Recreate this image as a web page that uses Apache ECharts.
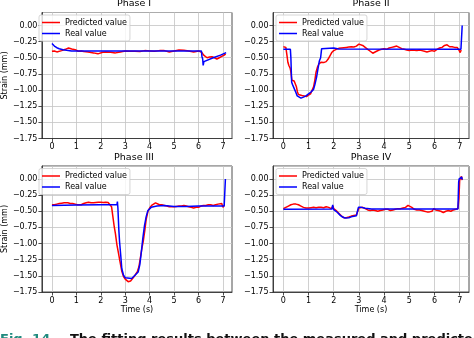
<!DOCTYPE html>
<html>
<head>
<meta charset="utf-8">
<script src="https://cdn.jsdelivr.net/npm/echarts@6/dist/echarts.min.js"></script>
<style>html,body{margin:0;padding:0;background:#fff}#c{width:474px;height:338px}</style>
</head>
<body>
<div id="c"></div>
<script>
const panelTitles = ['Phase I', 'Phase II', 'Phase III', 'Phase IV'];
const seriesNames = ['Predicted value', 'Real value'];
const xTicks = [0, 1, 2, 3, 4, 5, 6, 7];
const yTicksMin = -1.75, yTicksStep = 0.25;

const p1Pred = [[0,-0.40],[0.1,-0.395],[0.2,-0.41],[0.28,-0.42],[0.4,-0.39],[0.55,-0.37],[0.68,-0.35],[0.81,-0.365],[0.95,-0.375],[1.08,-0.40],[1.2,-0.395],[1.3,-0.405],[1.48,-0.41],[1.6,-0.42],[1.7,-0.425],[1.88,-0.44],[1.95,-0.43],[2.08,-0.415],[2.2,-0.41],[2.28,-0.405],[2.4,-0.415],[2.48,-0.41],[2.6,-0.425],[2.68,-0.43],[2.8,-0.41],[2.88,-0.405],[3.0,-0.395],[3.08,-0.39],[3.2,-0.40],[3.28,-0.395],[3.4,-0.40],[3.48,-0.395],[3.6,-0.405],[3.68,-0.40],[3.8,-0.39],[3.88,-0.385],[4.0,-0.395],[4.08,-0.405],[4.2,-0.40],[4.28,-0.395],[4.4,-0.39],[4.48,-0.38],[4.6,-0.39],[4.68,-0.395],[4.8,-0.41],[4.88,-0.42],[5.0,-0.395],[5.08,-0.385],[5.2,-0.38],[5.28,-0.375],[5.4,-0.385],[5.48,-0.39],[5.6,-0.395],[5.68,-0.40],[5.8,-0.41],[5.88,-0.405],[6.0,-0.395],[6.08,-0.40],[6.14,-0.42],[6.21,-0.46],[6.28,-0.48],[6.35,-0.50],[6.45,-0.49],[6.55,-0.485],[6.65,-0.50],[6.75,-0.52],[6.85,-0.50],[6.95,-0.48],[7.05,-0.46],[7.11,-0.44]];
const p1Real = [[0,-0.28],[0.1,-0.32],[0.2,-0.345],[0.3,-0.36],[0.45,-0.375],[0.6,-0.385],[0.8,-0.395],[6.12,-0.395],[6.14,-0.48],[6.17,-0.52],[6.19,-0.62],[6.22,-0.56],[6.3,-0.54],[6.6,-0.50],[6.9,-0.46],[7.13,-0.42]];

const p2Pred = [[0,-0.33],[0.05,-0.30],[0.1,-0.34],[0.15,-0.48],[0.18,-0.57],[0.22,-0.62],[0.27,-0.66],[0.3,-0.72],[0.34,-0.85],[0.38,-0.87],[0.43,-0.86],[0.48,-0.88],[0.52,-0.95],[0.56,-1.03],[0.6,-1.07],[0.65,-1.07],[0.7,-1.08],[0.78,-1.09],[0.85,-1.11],[0.92,-1.10],[1.0,-1.08],[1.08,-1.06],[1.15,-1.03],[1.2,-0.95],[1.25,-0.85],[1.3,-0.72],[1.36,-0.64],[1.42,-0.59],[1.5,-0.57],[1.6,-0.575],[1.7,-0.56],[1.78,-0.52],[1.85,-0.47],[1.92,-0.42],[2.0,-0.39],[2.1,-0.37],[2.2,-0.355],[2.3,-0.35],[2.4,-0.345],[2.5,-0.34],[2.6,-0.335],[2.7,-0.33],[2.8,-0.335],[2.9,-0.32],[3.0,-0.29],[3.05,-0.28],[3.15,-0.31],[3.25,-0.34],[3.35,-0.37],[3.45,-0.40],[3.55,-0.43],[3.62,-0.42],[3.7,-0.40],[3.8,-0.38],[3.9,-0.37],[4.0,-0.36],[4.1,-0.37],[4.2,-0.35],[4.3,-0.34],[4.4,-0.33],[4.5,-0.32],[4.6,-0.34],[4.7,-0.36],[4.8,-0.37],[4.9,-0.38],[5.0,-0.39],[5.1,-0.38],[5.2,-0.385],[5.3,-0.39],[5.4,-0.38],[5.5,-0.39],[5.6,-0.40],[5.7,-0.41],[5.8,-0.40],[5.9,-0.39],[6.0,-0.40],[6.1,-0.37],[6.2,-0.35],[6.3,-0.34],[6.4,-0.31],[6.5,-0.30],[6.6,-0.33],[6.7,-0.33],[6.8,-0.34],[6.9,-0.34],[6.97,-0.38],[7.02,-0.42],[7.06,-0.38]];
const p2Real = [[0,-0.37],[0.28,-0.37],[0.3,-0.5],[0.33,-0.88],[0.37,-0.92],[0.41,-0.94],[0.48,-1.02],[0.55,-1.09],[0.62,-1.12],[0.7,-1.125],[0.8,-1.11],[0.9,-1.09],[1.0,-1.06],[1.1,-1.03],[1.2,-0.99],[1.25,-0.92],[1.32,-0.80],[1.38,-0.66],[1.43,-0.55],[1.48,-0.50],[1.52,-0.36],[1.55,-0.35],[2.0,-0.35],[2.2,-0.365],[7.05,-0.37],[7.08,-0.37],[7.1,0.0]];

const p3Pred = [[0,-0.40],[0.1,-0.40],[0.2,-0.39],[0.3,-0.38],[0.4,-0.375],[0.5,-0.37],[0.55,-0.36],[0.65,-0.37],[0.75,-0.38],[0.85,-0.38],[0.95,-0.39],[1.05,-0.40],[1.12,-0.41],[1.2,-0.40],[1.3,-0.38],[1.4,-0.37],[1.5,-0.36],[1.6,-0.37],[1.7,-0.37],[1.8,-0.365],[1.9,-0.36],[2.0,-0.36],[2.1,-0.365],[2.2,-0.36],[2.3,-0.365],[2.38,-0.38],[2.44,-0.43],[2.5,-0.60],[2.55,-0.74],[2.6,-0.85],[2.66,-1.02],[2.72,-1.14],[2.78,-1.27],[2.86,-1.43],[2.93,-1.51],[3.0,-1.55],[3.06,-1.57],[3.12,-1.59],[3.17,-1.60],[3.22,-1.58],[3.28,-1.56],[3.35,-1.52],[3.42,-1.49],[3.5,-1.43],[3.56,-1.36],[3.62,-1.22],[3.68,-1.08],[3.74,-0.96],[3.8,-0.80],[3.86,-0.62],[3.93,-0.50],[4.0,-0.45],[4.08,-0.41],[4.16,-0.38],[4.24,-0.37],[4.32,-0.38],[4.4,-0.40],[4.5,-0.40],[4.6,-0.41],[4.7,-0.42],[4.8,-0.43],[4.9,-0.43],[5.0,-0.43],[5.1,-0.425],[5.2,-0.42],[5.3,-0.42],[5.4,-0.41],[5.5,-0.42],[5.6,-0.43],[5.7,-0.44],[5.8,-0.45],[5.9,-0.44],[6.0,-0.44],[6.1,-0.42],[6.2,-0.41],[6.3,-0.41],[6.4,-0.40],[6.5,-0.40],[6.6,-0.41],[6.7,-0.40],[6.8,-0.39],[6.88,-0.37],[6.95,-0.38],[7.0,-0.44],[7.05,-0.41]];
const p3Real = [[0,-0.41],[1.0,-0.405],[2.0,-0.40],[2.66,-0.40],[2.68,-0.35],[2.70,-0.45],[2.74,-0.80],[2.77,-0.98],[2.82,-1.20],[2.86,-1.39],[2.93,-1.49],[3.0,-1.53],[3.06,-1.54],[3.26,-1.54],[3.4,-1.49],[3.53,-1.44],[3.6,-1.32],[3.66,-1.13],[3.72,-0.92],[3.79,-0.72],[3.86,-0.58],[3.93,-0.49],[4.0,-0.46],[4.06,-0.44],[4.3,-0.42],[4.6,-0.41],[5.0,-0.425],[5.5,-0.425],[6.0,-0.42],[6.5,-0.42],[7.05,-0.42],[7.08,-0.40],[7.1,0.0]];

const p4Pred = [[0,-0.46],[0.1,-0.44],[0.2,-0.42],[0.3,-0.40],[0.4,-0.39],[0.5,-0.39],[0.6,-0.40],[0.7,-0.42],[0.8,-0.44],[0.9,-0.45],[1.0,-0.45],[1.1,-0.445],[1.2,-0.44],[1.3,-0.445],[1.4,-0.44],[1.5,-0.44],[1.6,-0.445],[1.7,-0.43],[1.8,-0.44],[1.9,-0.46],[1.97,-0.42],[2.0,-0.46],[2.1,-0.49],[2.2,-0.53],[2.3,-0.57],[2.4,-0.60],[2.5,-0.60],[2.6,-0.59],[2.7,-0.575],[2.8,-0.565],[2.9,-0.56],[2.95,-0.54],[3.0,-0.45],[3.05,-0.43],[3.15,-0.44],[3.25,-0.46],[3.35,-0.48],[3.45,-0.49],[3.55,-0.48],[3.65,-0.49],[3.75,-0.50],[3.85,-0.49],[3.95,-0.48],[4.05,-0.47],[4.15,-0.47],[4.25,-0.49],[4.35,-0.48],[4.45,-0.47],[4.55,-0.46],[4.65,-0.46],[4.75,-0.45],[4.85,-0.44],[4.95,-0.41],[5.02,-0.40],[5.1,-0.44],[5.2,-0.47],[5.3,-0.48],[5.4,-0.48],[5.5,-0.49],[5.6,-0.50],[5.7,-0.51],[5.8,-0.51],[5.9,-0.50],[5.97,-0.46],[6.05,-0.48],[6.15,-0.49],[6.25,-0.50],[6.35,-0.52],[6.45,-0.50],[6.55,-0.49],[6.65,-0.50],[6.75,-0.48],[6.85,-0.47],[6.93,-0.46],[6.97,-0.30],[7.0,-0.02],[7.04,0.01],[7.07,0.04],[7.1,-0.02]];
const p4Real = [[0,-0.47],[1.93,-0.465],[1.96,-0.40],[1.99,-0.47],[2.05,-0.49],[2.15,-0.52],[2.25,-0.56],[2.35,-0.59],[2.45,-0.605],[2.6,-0.60],[2.75,-0.58],[2.9,-0.57],[2.96,-0.55],[2.98,-0.44],[3.1,-0.44],[3.25,-0.455],[3.5,-0.465],[4.0,-0.465],[5.0,-0.465],[6.0,-0.465],[6.93,-0.465],[6.96,-0.05],[6.98,0.0],[7.02,0.01],[7.05,-0.01],[7.08,0.03],[7.1,-0.01]];

const predData = [p1Pred, p2Pred, p3Pred, p4Pred];
const realData = [p1Real, p2Real, p3Real, p4Real];
const lineColors = ['#ff0000', '#0000ff'];

const FONT = 'DejaVu Sans';
const grids = [
  {left: 36, top: 12.5, width: 196, height: 126},
  {left: 273, top: 12.5, width: 196, height: 126},
  {left: 36, top: 166, width: 196, height: 126},
  {left: 273, top: 166, width: 196, height: 126}
];
const fmtY = v => (v < -1e-9 ? '\u2212' : '') + Math.abs(v).toFixed(2);
const lineIcon = 'path://M0,0 L36,0 L36,3 L0,3 Z';

const option = {
  animation: false,
  backgroundColor: '#fff',
  grid: grids.map(g => Object.assign({show: true, borderColor: '#222', borderWidth: 0.8, backgroundColor: 'transparent'}, g)),
  xAxis: grids.map((g, i) => ({
    type: 'value', gridIndex: i, min: -0.41, max: 7.37,
    name: i >= 2 ? 'Time (s)' : '', nameLocation: 'middle', nameGap: 14,
    nameTextStyle: {fontFamily: FONT, fontSize: 8, color: '#000'},
    axisLine: {show: true, onZero: false, lineStyle: {color: '#222', width: 0.8}},
    axisTick: {show: true, length: 3.5, customValues: xTicks, lineStyle: {color: '#222', width: 0.8}},
    axisLabel: {customValues: xTicks, margin: 4.5, fontFamily: FONT, fontSize: 8, color: '#000'},
    splitLine: {show: true, lineStyle: {color: '#c4c4c4', width: 0.8}}
  })),
  yAxis: grids.map((g, i) => ({
    type: 'value', gridIndex: i, min: yTicksMin, max: 0.2, interval: yTicksStep,
    name: (i % 2 === 0) ? 'Strain (mm)' : '', nameLocation: 'middle', nameGap: 28,
    nameTextStyle: {fontFamily: FONT, fontSize: 8, color: '#000'},
    axisLine: {show: true, onZero: false, lineStyle: {color: '#222', width: 0.8}},
    axisTick: {show: true, length: 3.5, lineStyle: {color: '#222', width: 0.8}},
    axisLabel: {showMaxLabel: false, margin: 4.5, fontFamily: FONT, fontSize: 8, color: '#000', formatter: fmtY},
    splitLine: {show: true, lineStyle: {color: '#c4c4c4', width: 0.8}}
  })),
  legend: grids.map((g, i) => ({
    orient: 'vertical', left: g.left + 3, top: g.top + 2.5,
    data: seriesNames.map((n, k) => ({name: n, icon: lineIcon, itemStyle: {color: lineColors[k]}})),
    itemWidth: 18, itemHeight: 9, itemGap: 2, symbolKeepAspect: true,
    padding: [3, 3, 3, 3], borderColor: '#cccccc', borderWidth: 0.8, borderRadius: 2,
    backgroundColor: 'rgba(255,255,255,0.8)',
    textStyle: {fontFamily: FONT, fontSize: 8, color: '#000', lineHeight: 9}
  })),
  graphic: [
    ...grids.map((g, i) => ({
      type: 'text', x: g.left + g.width / 2, y: g.top - 13.5,
      style: {text: panelTitles[i], font: '9.5px "DejaVu Sans"', fill: '#000', align: 'center', verticalAlign: 'top'}
    })),
    {type: 'text', x: 0, y: 333.5, style: {text: 'Fig. 14.', font: 'bold 13px "DejaVu Sans"', fill: '#1f8a7e', align: 'left', verticalAlign: 'top'}},
    {type: 'text', x: 70, y: 333.5, style: {text: 'The fitting results between the measured and predicted values', font: 'bold 13px "DejaVu Sans"', fill: '#111', align: 'left', verticalAlign: 'top'}}
  ],
  series: []
};

for (let i = 0; i < 4; i++) {
  option.series.push({
    name: seriesNames[0], type: 'line', xAxisIndex: i, yAxisIndex: i, data: predData[i],
    symbol: 'none', showSymbol: false, lineStyle: {color: lineColors[0], width: 1.5}, itemStyle: {color: lineColors[0]}, z: 2
  });
  option.series.push({
    name: seriesNames[1], type: 'line', xAxisIndex: i, yAxisIndex: i, data: realData[i],
    symbol: 'none', showSymbol: false, lineStyle: {color: lineColors[1], width: 1.5}, itemStyle: {color: lineColors[1]}, z: 3
  });
}

const chart = echarts.init(document.getElementById('c'), null, {renderer: 'canvas'});
chart.setOption(option);
</script>
</body>
</html>
